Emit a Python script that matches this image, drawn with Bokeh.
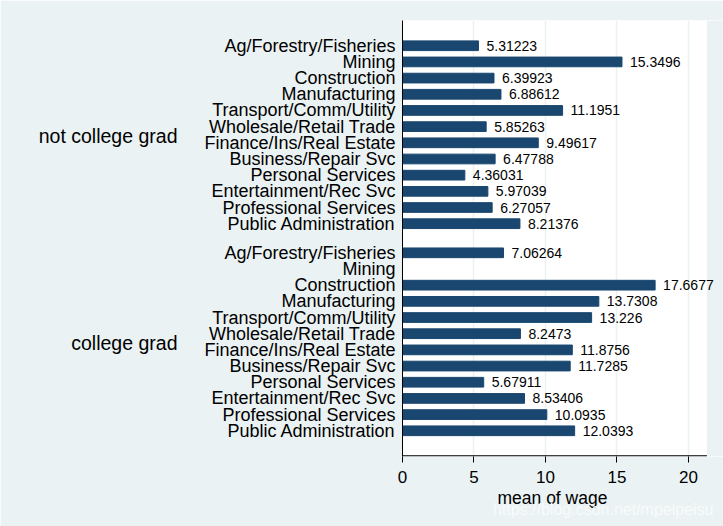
import math
from bokeh.plotting import figure
from bokeh.models import (ColumnDataSource, FixedTicker, LinearAxis, Range1d, LabelSet,
                          BoxAnnotation, Title)
from bokeh.core.properties import value
from bokeh.embed import file_html
from bokeh.resources import INLINE

industries = ["Ag/Forestry/Fisheries", "Mining", "Construction", "Manufacturing",
              "Transport/Comm/Utility", "Wholesale/Retail Trade", "Finance/Ins/Real Estate",
              "Business/Repair Svc", "Personal Services", "Entertainment/Rec Svc",
              "Professional Services", "Public Administration"]
groups = ["not college grad", "college grad"]
wage_not_grad = [5.31223, 15.3496, 6.39923, 6.88612, 11.1951, 5.85263, 9.49617,
                 6.47788, 4.36031, 5.97039, 6.27057, 8.21376]
wage_grad = [7.06264, float("nan"), 17.6677, 13.7308, 13.226, 8.2473, 11.8756,
             11.7285, 5.67911, 8.53406, 10.0935, 12.0393]
x_ticks = [0, 5, 10, 15, 20]
x_title = "mean of wage"
watermark = "https://blog.csdn.net/mpeipeisu"

FONT = "Liberation Sans"
NAVY = "#1A476F"
BG = "#EAF2F3"

X_END = 21.29      # visible end of the white plot region
Y_BOT, Y_TOP = -253.9, 15.6

# positions (integers, 10 units per row, gap between groups)
ys, rights, labels, cats = [], [], [], {}
group_ticks = {}
for g, vals in enumerate([wage_not_grad, wage_grad]):
    base = 0 if g == 0 else 128
    group_ticks[-(base + 56)] = groups[g]
    for i, (name, v) in enumerate(zip(industries, vals)):
        y = -(base + 10 * i)
        cats[y] = name
        ys.append(y)
        rights.append(v)
        labels.append("" if math.isnan(v) else f"{v:.6g}")

src = ColumnDataSource(dict(y=ys, right=rights,
                            lx=[0 if math.isnan(r) else r for r in rights],
                            label=labels))

p = figure(width=723, height=526, output_backend="svg", toolbar_location=None,
           x_range=Range1d(0, 22.45), y_range=Range1d(Y_BOT, Y_TOP),
           min_border_left=402, min_border_top=20, min_border_right=0,
           min_border_bottom=70, y_axis_location=None)
p.border_fill_color = BG
p.background_fill_color = "white"
p.outline_line_color = None

# light strip to the right of the plot region (frame is wider so labels are not cut)
p.add_layout(BoxAnnotation(left=X_END, fill_color=BG, fill_alpha=1.0,
                           line_color=None, level="underlay"))

p.hbar(y="y", right="right", left=0, height=6, source=src, color=NAVY)
p.add_layout(LabelSet(x="lx", y="y", text="label", source=src, x_offset=8,
                      text_baseline="middle", text_align="left", text_font=value(FONT),
                      text_font_size=value("14px"), text_color="black"))

# grid
p.ygrid.grid_line_color = None
p.xgrid.ticker = FixedTicker(ticks=x_ticks)
p.xgrid.grid_line_color = BG
p.xgrid.grid_line_width = 1.5

# x axis line only as long as the plot region
p.add_layout(BoxAnnotation(left=0, right=X_END, bottom=Y_BOT, top=Y_BOT + 0.75,
                           fill_color="black", fill_alpha=1.0, line_color=None))

xa = p.xaxis[0]
xa.ticker = FixedTicker(ticks=x_ticks)
xa.major_label_text_font = FONT
xa.major_label_text_font_size = "17px"
xa.major_label_text_color = "black"
xa.major_label_standoff = 8
xa.axis_line_color = None
xa.major_tick_line_color = "black"
xa.major_tick_out = 6
xa.major_tick_in = 0
xa.minor_tick_line_color = None

# x axis title, centred under the white region
p.add_layout(Title(text=x_title, align="left", offset=95, text_font=FONT,
                   text_font_size="17.5px", text_font_style="normal",
                   text_color="black", standoff=0), "below")

# category axis
ya = LinearAxis(ticker=FixedTicker(ticks=list(cats.keys())),
                major_label_overrides=cats)
ya.axis_line_color = "black"
ya.major_tick_line_color = None
ya.major_tick_out = 0
ya.major_tick_in = 0
ya.minor_tick_line_color = None
ya.major_label_text_font = FONT
ya.major_label_text_font_size = "18px"
ya.major_label_text_color = "black"
ya.major_label_standoff = 7
p.add_layout(ya, "left")

# group axis
ga = LinearAxis(ticker=FixedTicker(ticks=list(group_ticks.keys())),
                major_label_overrides=group_ticks)
ga.axis_line_color = None
ga.major_tick_line_color = None
ga.major_tick_out = 0
ga.major_tick_in = 0
ga.minor_tick_line_color = None
ga.major_label_text_font = FONT
ga.major_label_text_font_size = "19.5px"
ga.major_label_text_color = "black"
ga.major_label_standoff = 24
p.add_layout(ga, "left")

# watermark
p.add_layout(Title(text=watermark, align="right", text_font=FONT,
                   text_font_size="16px", text_font_style="normal",
                   text_color="#f8fbfb", standoff=-20, offset=10), "below")

open("out.html", "w").write(file_html(p, INLINE))
